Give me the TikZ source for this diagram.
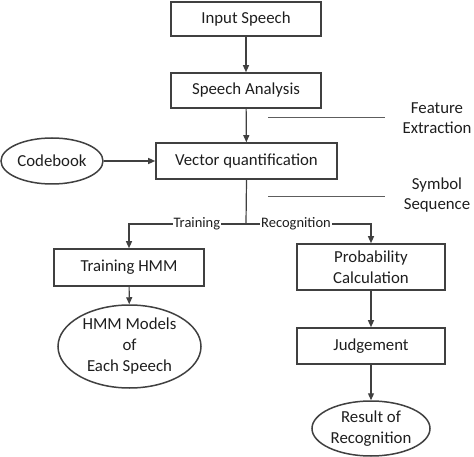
\documentclass[tikz,border=0pt]{standalone}
\usepackage{fontspec}
\setmainfont{Carlito}
\usetikzlibrary{shapes.geometric,arrows.meta}
\definecolor{ln}{HTML}{404040}
\definecolor{tx}{HTML}{1E1E1E}
\begin{document}
\begin{tikzpicture}[x=1pt,y=-1pt,
  box/.style={draw=ln,line width=1.6pt,rectangle,inner sep=0pt,text=tx,align=center,
    font=\fontsize{16.8}{21}\selectfont},
  oval/.style={draw=ln,line width=1.5pt,ellipse,inner sep=0pt,text=tx,align=center,
    font=\fontsize{16.8}{21}\selectfont},
  arr/.style={draw=ln,line width=1.2pt,-{Triangle[length=7pt,width=6pt]}},
  plain/.style={draw=ln,line width=1.2pt},
  thin/.style={draw=ln!85,line width=1pt},
  lbl/.style={fill=white,inner sep=1pt,text=tx,font=\fontsize{14.5}{16}\selectfont},
  side/.style={text=tx,align=center,font=\fontsize{16.8}{20}\selectfont}]
\useasboundingbox (0,0) rectangle (474,457);
\node[box,minimum width=150,minimum height=34] (in) at (246,19) {Input Speech};
\node[box,minimum width=150,minimum height=35] (sa) at (246,90.5) {Speech Analysis};
\node[box,minimum width=181,minimum height=36] (vq) at (246.5,161) {Vector quantification};
\node[oval,minimum width=102,minimum height=46] (cb) at (52,161) {Codebook};
\node[box,minimum width=150,minimum height=37] (th) at (129,267.5) {Training HMM};
\node[box,minimum width=148,minimum height=46] (pc) at (371,267) {Probability\\Calculation};
\node[oval,minimum width=143,minimum height=83] (hm) at (129.5,346.5) {HMM Models\\of\\Each Speech};
\node[box,minimum width=148,minimum height=36] (jd) at (371,346) {Judgement};
\node[oval,minimum width=118,minimum height=55] (rr) at (371,428.5) {Result of\\Recognition};
\node[side] (fe) at (437,118) {Feature\\Extraction};
\node[side] (ss) at (437,195) {Symbol\\Sequence};
\coordinate (fa) at (268,118);
\coordinate (fb) at (385,118);
\coordinate (sa1) at (268,197);
\coordinate (sb1) at (385,197);
\coordinate (sp) at (246,224);
\draw[thin] (fa) -- (fb);
\draw[thin] (sa1) -- (sb1);
\draw[arr] (in) -- (sa);
\draw[arr] (sa) -- (vq);
\draw[arr] (cb) -- (vq);
\draw[plain] (vq.south) -- (sp);
\draw[arr] (sp) -- node[lbl,pos=0.42] {Training} (sp -| th.north) -- (th.north);
\draw[arr] (sp) -- node[lbl,pos=0.4] {Recognition} (sp -| pc.north) -- (pc.north);
\draw[arr] (th) -- (hm);
\draw[arr] (pc) -- (jd);
\draw[arr] (jd) -- (rr);
\end{tikzpicture}
\end{document}
